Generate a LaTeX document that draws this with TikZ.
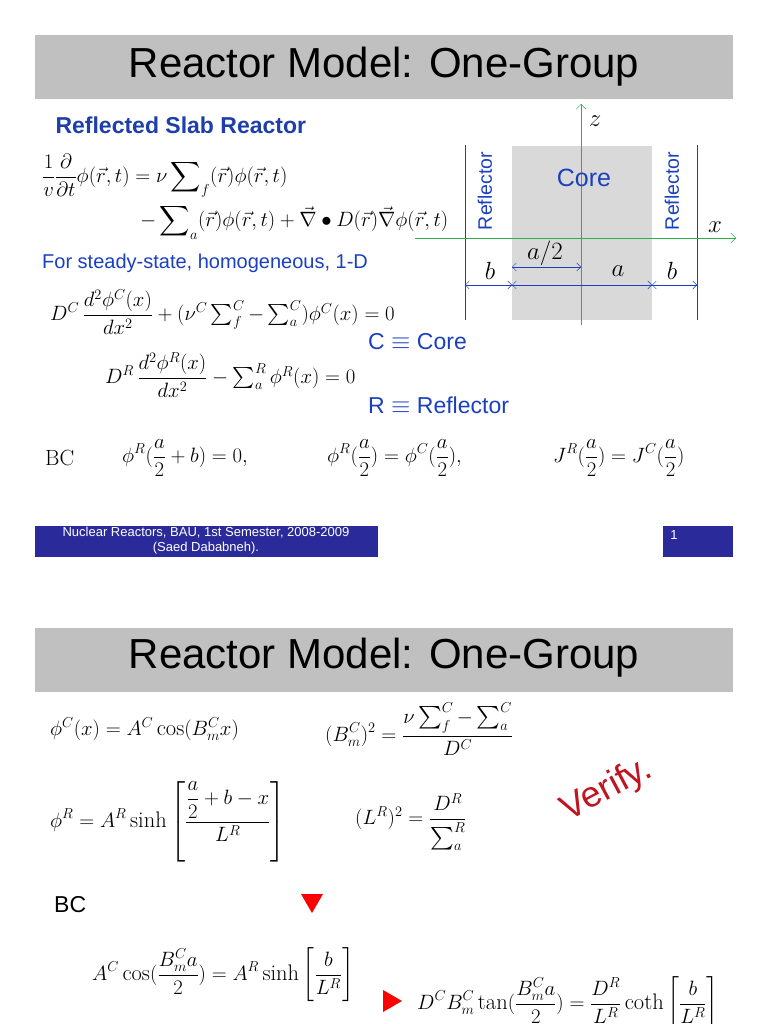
\documentclass[tikz,border=0pt]{standalone}
\usepackage{fontspec}
\usepackage{amsmath,amssymb}
\setsansfont{Liberation Sans}
\usetikzlibrary{arrows.meta}
\definecolor{barg}{HTML}{C0C0C0}
\definecolor{tblue}{HTML}{1F3FA8}
\definecolor{lblue}{HTML}{1A40C0}
\definecolor{foot}{HTML}{2A2A9A}
\definecolor{axg}{HTML}{2BB04A}
\definecolor{coreg}{HTML}{D9D9D9}
\definecolor{vred}{HTML}{C0141E}
\tikzset{
 ttl/.style={font=\sffamily\fontsize{42}{46}\selectfont},
 eq/.style={anchor=west,font=\fontsize{21}{24}\selectfont,inner sep=0},
 eqb/.style={anchor=west,font=\fontsize{22.5}{26}\selectfont,inner sep=0},
 bluet/.style={anchor=west,text=lblue,font=\sffamily\fontsize{20}{24}\selectfont,inner sep=0},
 dim/.style={{Straight Barb[length=4pt]}-{Straight Barb[length=4pt]},lblue,thin},
 refl/.style={rotate=90,text=lblue,font=\sffamily\fontsize{19.5}{22}\selectfont},
 lab/.style={font=\fontsize{26}{28}\selectfont},
}
\begin{document}
\begin{tikzpicture}[x=1pt,y=-1pt]
\useasboundingbox (0,0) rectangle (768,1024);
\clip (0,0) rectangle (768,1024);
\fill[white] (0,0) rectangle (768,1024);
% slide 1
\fill[barg] (35,35) rectangle (733,99);
\node[ttl] (t1) at (384,67) {Reactor Model: One-Group};
\node[anchor=west,text=tblue,font=\sffamily\bfseries\fontsize{23}{26}\selectfont] (rs) at (52,125) {Reflected Slab Reactor};
\node[eq] (e1) at (42,176) {$\displaystyle \frac{1}{v}\frac{\partial}{\partial t}\phi(\vec r,t)=\nu\sum\nolimits_f(\vec r)\phi(\vec r,t)$};
\node[eq] (e2) at (140,222) {$\displaystyle -\sum\nolimits_a(\vec r)\phi(\vec r,t)+\vec\nabla\bullet D(\vec r)\vec\nabla\phi(\vec r,t)$};
\node[bluet] (ss) at (42,263) {For steady-state, homogeneous, 1-D};
\node[eq] (e3) at (50,312) {$\displaystyle D^C\,\frac{d^2\phi^C(x)}{dx^2}+(\nu^C\textstyle\sum_f^C-\sum_a^C)\phi^C(x)=0$};
\node[bluet,font=\sffamily\fontsize{23}{26}\selectfont] (cc) at (368,342) {C $\equiv$ Core};
\node[eq] (e4) at (105,375) {$\displaystyle D^R\,\frac{d^2\phi^R(x)}{dx^2}-\textstyle\sum_a^R\phi^R(x)=0$};
\node[bluet,font=\sffamily\fontsize{23}{26}\selectfont] (rr) at (368,405) {R $\equiv$ Reflector};
\node[eq,font=\fontsize{22}{26}\selectfont] (bc1) at (45,458) {BC};
\node[eq,font=\fontsize{22}{26}\selectfont] (bc2) at (122,458) {$\displaystyle \phi^R(\frac{a}{2}+b)=0,$};
\node[eq,font=\fontsize{22}{26}\selectfont] (bc3) at (327,458) {$\displaystyle \phi^R(\frac{a}{2})=\phi^C(\frac{a}{2}),$};
\node[eq,font=\fontsize{22}{26}\selectfont] (bc4) at (553,458) {$\displaystyle J^R(\frac{a}{2})=J^C(\frac{a}{2})$};
\fill[foot] (35,526) rectangle (378,557);
\node[text=white,font=\sffamily\fontsize{13}{15}\selectfont,align=center] (ft) at (206,541) {Nuclear Reactors, BAU, 1st Semester, 2008-2009\\(Saed Dababneh).};
\fill[foot] (663,526) rectangle (733,557);
\node[text=white,font=\sffamily\fontsize{13}{15}\selectfont] (pg) at (674,535) {1};
% figure
\fill[coreg] (512,146) rectangle (652,320);
\draw[lblue] (465,145) -- (465,320);
\draw[lblue] (697,145) -- (697,320);
\coordinate (zb) at (581,325); \coordinate (zt) at (581,104);
\coordinate (xl) at (415,238); \coordinate (xr) at (736,238);
\draw[axg,-{Straight Barb[length=5pt]}] (zb) -- (zt);
\draw[axg,-{Straight Barb[length=5pt]}] (xl) -- (xr);
\node[lab] (zl) at (595,121) {$z$};
\node[lab] (xlab) at (715,227) {$x$};
\node[refl] (r1) at (485,191) {Reflector};
\node[refl] (r2) at (672,191) {Reflector};
\node[text=lblue,font=\sffamily\fontsize{25}{28}\selectfont] (co) at (584,178) {Core};
\coordinate (d1) at (465,285); \coordinate (d2) at (512,285); \coordinate (d3) at (652,285); \coordinate (d4) at (697,285);
\coordinate (h1) at (512,267); \coordinate (h2) at (581,267);
\draw[dim] (d1) -- (d2); \draw[dim] (d2) -- (d3); \draw[dim] (d3) -- (d4);
\draw[dim] (h1) -- (h2);
\node[lab] (la2) at (545,253) {$a/2$};
\node[lab] (lb1) at (490,271) {$b$};
\node[lab] (la) at (618,271) {$a$};
\node[lab] (lb2) at (672,271) {$b$};
% slide 2
\fill[barg] (35,628) rectangle (733,692);
\node[ttl] (t2) at (384,658) {Reactor Model: One-Group};
\node[eqb] (f1) at (50,729) {$\phi^C(x)=A^C\cos(B_m^Cx)$};
\node[eqb] (f2) at (325,729) {$\displaystyle (B_m^C)^2=\frac{\nu\sum_f^C-\sum_a^C}{D^C}$};
\node[eqb] (f3) at (50,822) {$\displaystyle \phi^R=A^R\sinh\left[\vphantom{\frac{\frac{a}{2}}{L^R}}\frac{\dfrac{a}{2}+b-x}{L^R}\right]$};
\node[eqb] (f4) at (355,822) {$\displaystyle (L^R)^2=\frac{D^R}{\sum_a^R}$};
\node[text=vred,rotate=28,font=\sffamily\fontsize{36}{40}\selectfont] (vf) at (607,790) {Verify.};
\node[eq,font=\sffamily\fontsize{23}{26}\selectfont] (bc) at (54,905) {BC};
\fill[red] (301,894) -- (323,894) -- (312,913) -- cycle;
\node[eqb] (g1) at (92,975) {$\displaystyle A^C\cos(\frac{B_m^Ca}{2})=A^R\sinh\left[\frac{b}{L^R}\right]$};
\fill[red] (383,990) -- (383,1012) -- (402,1001) -- cycle;
\node[eqb] (g2) at (417,1004) {$\displaystyle D^CB_m^C\tan(\frac{B_m^Ca}{2})=\frac{D^R}{L^R}\coth\left[\frac{b}{L^R}\right]$};
\node[eqb] (g3) at (160,1052) {$\displaystyle -\frac{B_m^Ca}{2}\quad\frac{D^R}{L^R}\qquad\left[\frac{b}{L^R}\right]$};
\end{tikzpicture}
\end{document}
